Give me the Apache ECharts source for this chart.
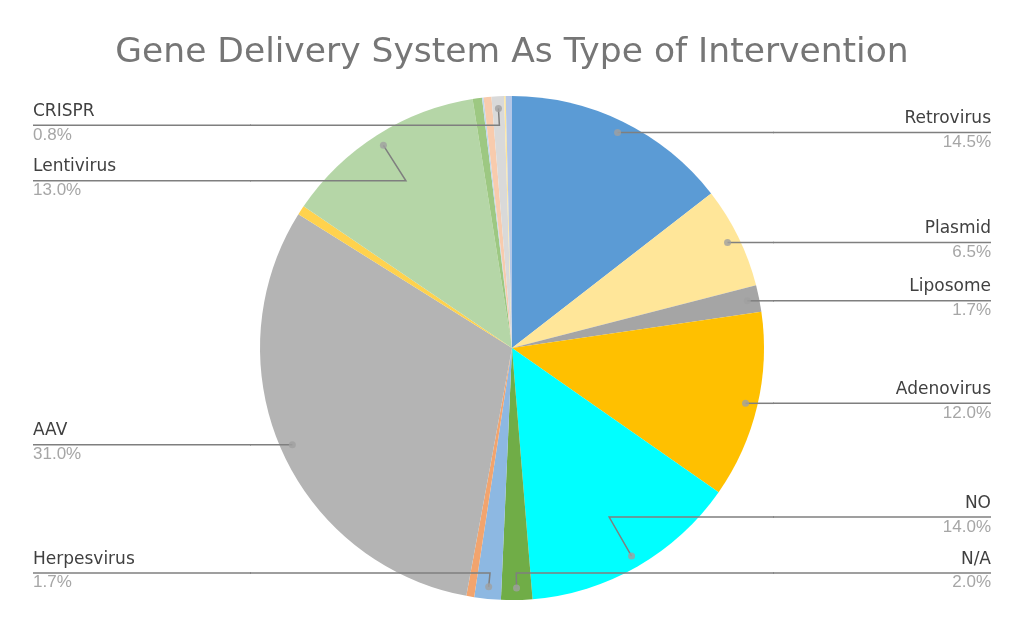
<!DOCTYPE html>
<html>
<head>
<meta charset="utf-8">
<title>Gene Delivery System As Type of Intervention</title>
<script src="https://cdn.jsdelivr.net/npm/echarts@6/dist/echarts.min.js"></script>
<style>
  html, body { margin: 0; padding: 0; background: #fff; }
  #chart { width: 1024px; height: 633px; }
</style>
</head>
<body>
<div id="chart"></div>
<script>
// slices in clockwise order from 12 o'clock
const names = ['Retrovirus', 'Plasmid', 'Liposome', 'Adenovirus', 'NO', 'N/A', 'Herpesvirus', 'Other A',
  'AAV', 'Other B', 'Lentivirus', 'Other C', 'Other D', 'Other E', 'CRISPR', 'Other F', 'Other G'];
const values = [14.5, 6.5, 1.7, 12.0, 14.0, 2.0, 1.7, 0.5, 31.0, 0.6, 13.0, 0.6, 0.1, 0.5, 0.8, 0.1, 0.4];
const labelled = [1, 1, 1, 1, 1, 1, 1, 0, 1, 0, 1, 0, 0, 0, 1, 0, 0];
const colors = ['#5B9BD5', '#FFE699', '#A5A5A5', '#FFC000', '#00FFFF', '#70AD47', '#8DB8E2', '#F2A46E',
  '#B4B4B4', '#FFD24D', '#B5D6A7', '#9DC882', '#BDD7EE', '#F8CBAD', '#D9D9D9', '#FFE699', '#B4C7E7'];

// callouts that sit closer to the centre than the dot (pulls the label in along its radius)
const calloutPull = {'CRISPR': -17, 'Lentivirus': -42, 'NO': -45, 'N/A': -15, 'Herpesvirus': -14};

const CX = 512, CY = 348, R = 252, DOT_R = 240;

const pieData = names.map((n, i) => ({name: n, value: values[i], itemStyle: {color: colors[i]}}));

// invisible copy that carries labels, so leader lines start inside the slices
const labelData = names.map((n, i) => ({
    name: n,
    value: values[i],
    label: {show: !!labelled[i]},
    labelLine: {show: !!labelled[i], length: calloutPull[n] || 0}
}));

// dot markers at the middle of each labelled slice
const total = values.reduce((a, b) => a + b, 0);
const dots = [];
let acc = 0;
values.forEach((v, i) => {
    if (labelled[i]) dots.push([DOT_R, (acc + v / 2) / total * 100]);
    acc += v;
});

const chart = echarts.init(document.getElementById('chart'));

chart.setOption({
    animation: false,
    backgroundColor: '#fff',
    title: {
        text: 'Gene Delivery System As Type of Intervention',
        left: 'center',
        top: 31,
        textStyle: {fontFamily: 'DejaVu Sans', fontSize: 34.5, fontWeight: 'normal', color: '#767676'}
    },
    polar: {center: [CX, CY], radius: R},
    angleAxis: {
        type: 'value', min: 0, max: 100, startAngle: 90, clockwise: true, show: false,
        axisLine: {show: false}, splitLine: {show: false}, axisLabel: {show: false}, axisTick: {show: false}
    },
    radiusAxis: {
        type: 'value', min: 0, max: R, show: false,
        axisLine: {show: false}, splitLine: {show: false}, axisLabel: {show: false}, axisTick: {show: false}
    },
    series: [
        {
            type: 'pie',
            z: 2,
            center: [CX, CY],
            radius: R,
            startAngle: 90,
            clockwise: true,
            silent: true,
            itemStyle: {borderWidth: 0},
            label: {show: false},
            labelLine: {show: false},
            data: pieData
        },
        {
            type: 'pie',
            z: 5,
            center: [CX, CY],
            radius: DOT_R,
            startAngle: 90,
            clockwise: true,
            silent: true,
            itemStyle: {color: 'rgba(0,0,0,0)', borderWidth: 0},
            label: {
                position: 'outside',
                alignTo: 'edge',
                edgeDistance: 33,
                distanceToLabelLine: -1,
                width: 218,
                formatter: p => '{n|' + p.name + '}\n{hr|}\n{p|' + p.value.toFixed(1) + '%}',
                rich: {
                    n: {fontFamily: 'DejaVu Sans', fontSize: 17, color: '#404040', lineHeight: 20, padding: [0, 0, 6, 0]},
                    hr: {width: '100%', height: 1.5, lineHeight: 1.5, backgroundColor: '#7F7F7F'},
                    p: {fontFamily: 'Liberation Sans', fontSize: 17, color: '#A6A6A6', lineHeight: 20, padding: [2, 0, 4, 0]}
                }
            },
            labelLine: {
                length: 0,
                length2: 0,
                minTurnAngle: 0,
                maxSurfaceAngle: 181,
                lineStyle: {color: '#7F7F7F', width: 1.5}
            },
            data: labelData
        },
        {
            type: 'scatter',
            z: 8,
            coordinateSystem: 'polar',
            silent: true,
            symbol: 'circle',
            symbolSize: 7,
            itemStyle: {color: '#A0A0A0'},
            data: dots
        }
    ]
});
</script>
</body>
</html>
